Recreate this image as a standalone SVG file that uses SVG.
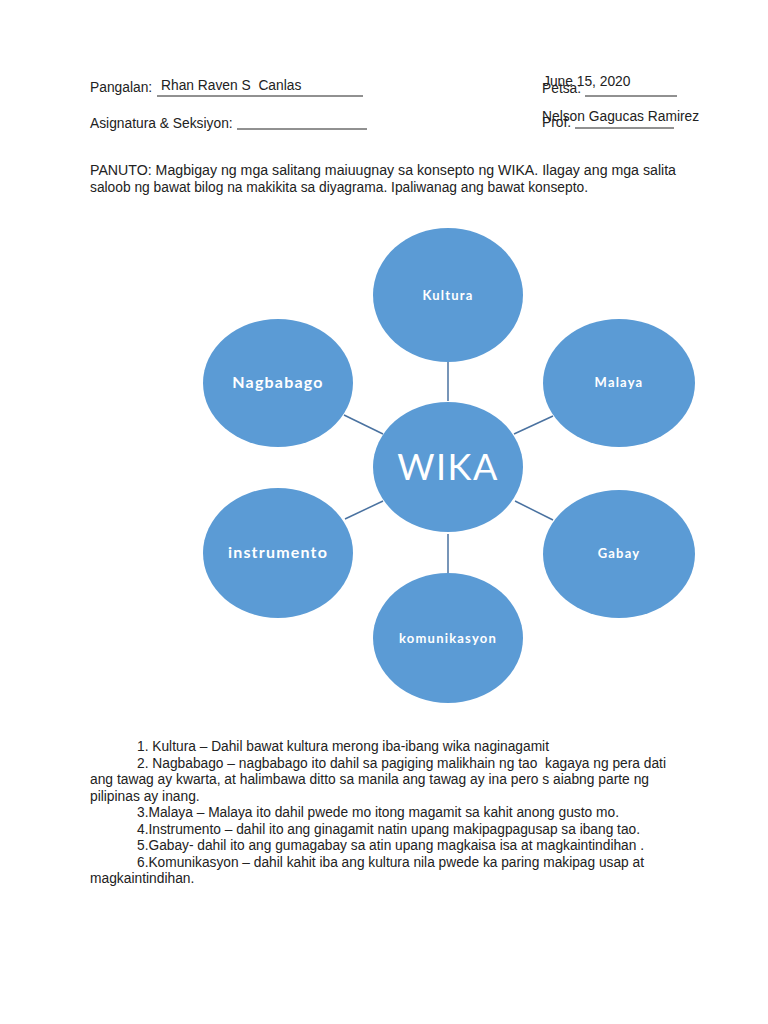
<svg xmlns="http://www.w3.org/2000/svg" width="768" height="1024" viewBox="0 0 768 1024">
<style>
.t{font-family:"Liberation Sans",Arial,sans-serif;font-size:13.8px;fill:#222;white-space:pre}
.h{font-family:"Liberation Sans",Arial,sans-serif;font-size:13.8px;fill:#222;white-space:pre}
.ul{stroke:#222;stroke-width:1}
.node{fill:#5b9bd5}
.lbl{font-family:Lato,"Open Sans",sans-serif;font-weight:bold;fill:#fff;text-anchor:middle;letter-spacing:1.2px}
.conn line{stroke:#4a72a0;stroke-width:1.5}
</style>
<rect width="768" height="1024" fill="#fff"/>
<g id="header">
<text class="h" x="90" y="92">Pangalan:</text>
<text class="h" x="161" y="90">Rhan Raven S  Canlas</text>
<line class="ul" x1="157" y1="96" x2="363" y2="96"/>
<text class="h" x="90" y="128">Asignatura &amp; Seksiyon:</text>
<line class="ul" x1="237" y1="129" x2="367" y2="129"/>
<text class="h" x="542" y="93">Petsa:</text>
<text class="h" x="543" y="86">June 15, 2020</text>
<line class="ul" x1="585" y1="96" x2="677" y2="96"/>
<text class="h" x="542" y="127">Prof.</text>
<text class="h" x="542" y="121">Nelson Gagucas Ramirez</text>
<line class="ul" x1="575" y1="128" x2="674" y2="128"/>
</g>
<g id="instructions">
<text class="t" x="90" y="175" textLength="586" lengthAdjust="spacingAndGlyphs">PANUTO: Magbigay ng mga salitang maiuugnay sa konsepto ng WIKA. Ilagay ang mga salita</text>
<text class="t" x="90" y="192" textLength="498" lengthAdjust="spacingAndGlyphs">saloob ng bawat bilog na makikita sa diyagrama. Ipaliwanag ang bawat konsepto.</text>
</g>
<g class="conn" id="connectors">
<line x1="448" y1="362" x2="448" y2="401"/>
<line x1="344" y1="415" x2="383" y2="434"/>
<line x1="553" y1="416" x2="514" y2="434"/>
<line x1="345" y1="519" x2="383" y2="501"/>
<line x1="515" y1="501" x2="553" y2="520"/>
<line x1="448" y1="534" x2="448" y2="573"/>
</g>
<g id="node-kultura"><ellipse class="node" cx="448" cy="295" rx="75" ry="67"/><text class="lbl" x="448" y="300" font-size="13">Kultura</text></g>
<g id="node-nagbabago"><ellipse class="node" cx="278" cy="383" rx="75" ry="64"/><text class="lbl" x="278" y="388" font-size="16">Nagbabago</text></g>
<g id="node-malaya"><ellipse class="node" cx="619" cy="383" rx="76" ry="64"/><text class="lbl" x="619" y="387" font-size="13">Malaya</text></g>
<g id="node-wika"><ellipse class="node" cx="448" cy="467" rx="75" ry="65"/><text x="448" y="480" font-family="Lato,'Open Sans',sans-serif" font-size="36" fill="#fff" text-anchor="middle" letter-spacing="1.5">WIKA</text></g>
<g id="node-instrumento"><ellipse class="node" cx="278" cy="553" rx="75" ry="65"/><text class="lbl" x="278" y="558" font-size="16">instrumento</text></g>
<g id="node-gabay"><ellipse class="node" cx="619" cy="554" rx="76" ry="64"/><text class="lbl" x="619" y="558" font-size="13">Gabay</text></g>
<g id="node-komunikasyon"><ellipse class="node" cx="448" cy="638" rx="75" ry="65"/><text class="lbl" x="448" y="643" font-size="13">komunikasyon</text></g>
<g id="answers">
<text class="t" x="137" y="751" textLength="412" lengthAdjust="spacingAndGlyphs">1. Kultura – Dahil bawat kultura merong iba-ibang wika naginagamit</text>
<text class="t" x="137" y="767.5" textLength="529" lengthAdjust="spacingAndGlyphs">2. Nagbabago – nagbabago ito dahil sa pagiging malikhain ng tao  kagaya ng pera dati</text>
<text class="t" x="90" y="784" textLength="559" lengthAdjust="spacingAndGlyphs">ang tawag ay kwarta, at halimbawa ditto sa manila ang tawag ay ina pero s aiabng parte ng</text>
<text class="t" x="90" y="800.5">pilipinas ay inang.</text>
<text class="t" x="137" y="817" textLength="482" lengthAdjust="spacingAndGlyphs">3.Malaya – Malaya ito dahil pwede mo itong magamit sa kahit anong gusto mo.</text>
<text class="t" x="137" y="833.5" textLength="503" lengthAdjust="spacingAndGlyphs">4.Instrumento – dahil ito ang ginagamit natin upang makipagpagusap sa ibang tao.</text>
<text class="t" x="137" y="850" textLength="507" lengthAdjust="spacingAndGlyphs">5.Gabay- dahil ito ang gumagabay sa atin upang magkaisa isa at magkaintindihan .</text>
<text class="t" x="137" y="866.5" textLength="507" lengthAdjust="spacingAndGlyphs">6.Komunikasyon – dahil kahit iba ang kultura nila pwede ka paring makipag usap at</text>
<text class="t" x="90" y="883">magkaintindihan.</text>
</g>
</svg>
